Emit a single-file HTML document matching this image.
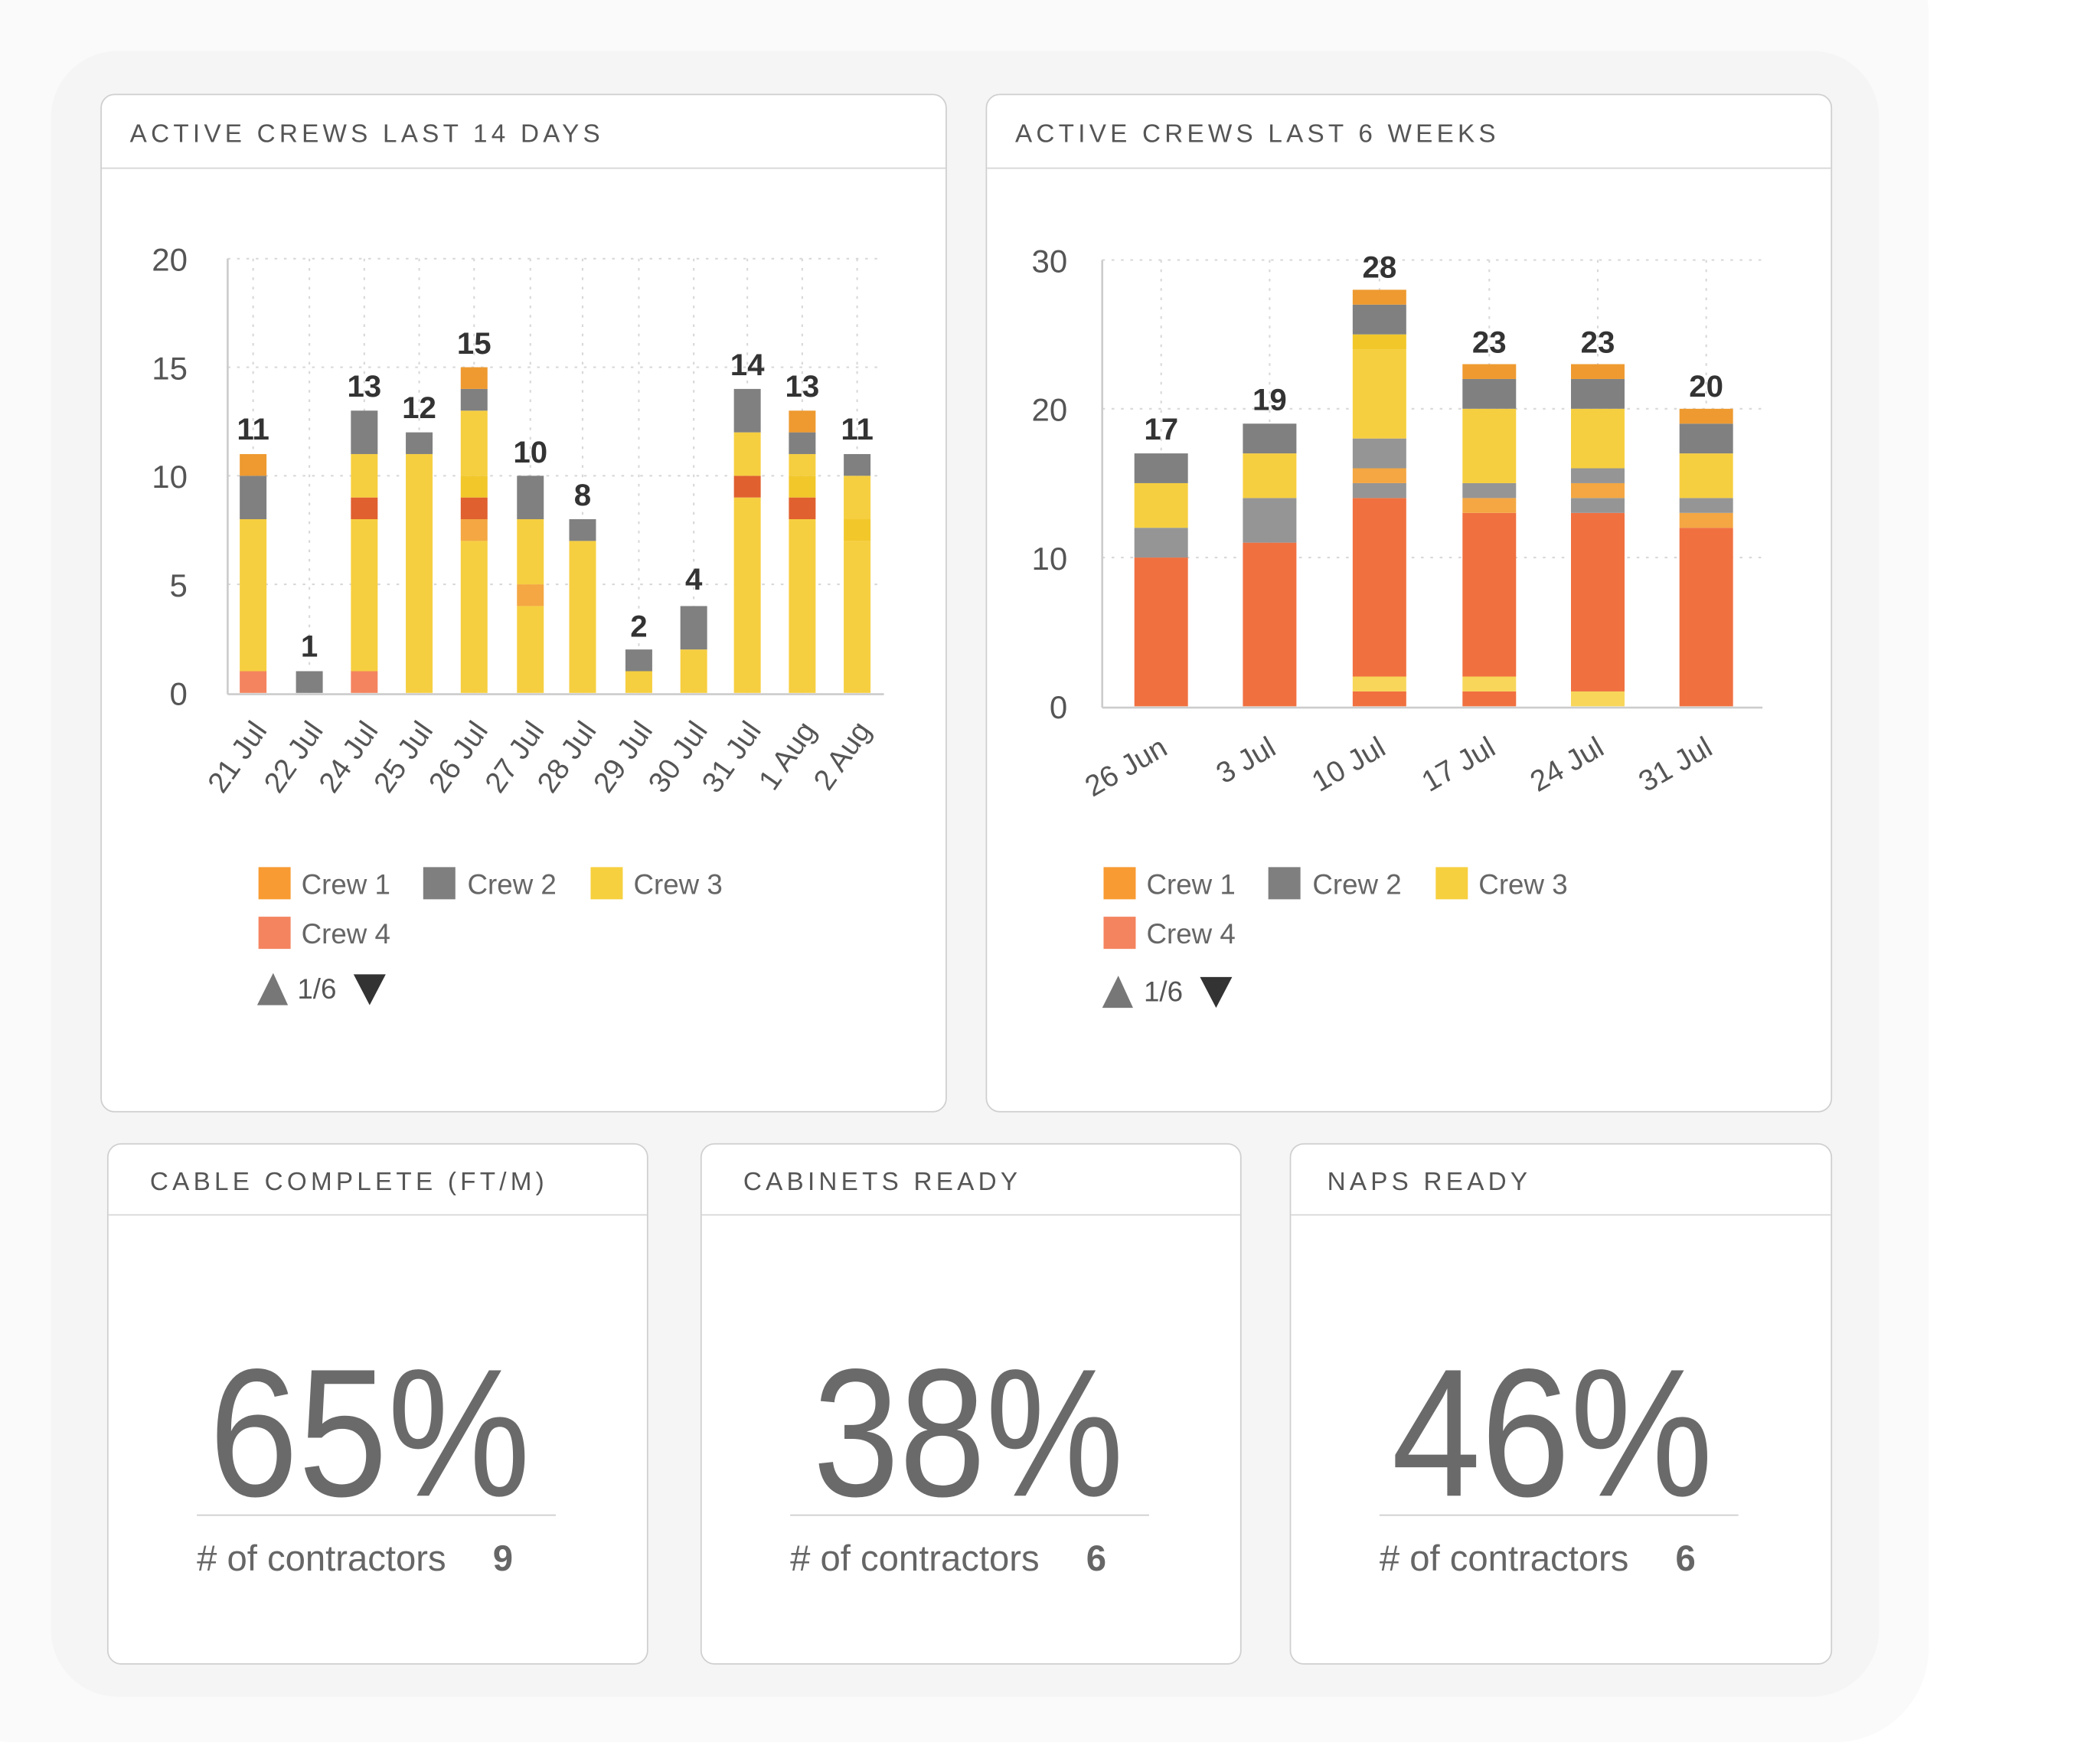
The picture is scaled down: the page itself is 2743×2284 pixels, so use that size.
<!DOCTYPE html>
<html><head><meta charset="utf-8">
<style>
html,body{margin:0;padding:0;background:#fff;}
svg{display:block;}
text{font-family:"Liberation Sans","DejaVu Sans",sans-serif;}
</style></head>
<body>
<svg id="s" width="2743" height="2284" viewBox="0 0 1568 1305" preserveAspectRatio="none" xmlns="http://www.w3.org/2000/svg">
<rect x="0" y="0" width="1568" height="1305" fill="#fff"/>
<rect x="-60" y="-60" width="1500" height="1360" rx="70" fill="#fafafa"/>
<rect x="38" y="38" width="1365" height="1228" rx="50" fill="#f5f5f5"/>
<g fill="#fff" stroke="#cfcfcf" stroke-width="1">
<rect x="75.5" y="70.5" width="631" height="759" rx="10"/>
<rect x="736.5" y="70.5" width="631" height="759" rx="10"/>
<rect x="80.5" y="853.5" width="403" height="388" rx="10"/>
<rect x="523.5" y="853.5" width="403" height="388" rx="10"/>
<rect x="963.5" y="853.5" width="404" height="388" rx="10"/>
</g>
<g stroke="#d6d6d6" stroke-width="1">
<line x1="76" y1="125.5" x2="706" y2="125.5"/>
<line x1="737" y1="125.5" x2="1367" y2="125.5"/>
<line x1="81" y1="906.5" x2="483" y2="906.5"/>
<line x1="524" y1="906.5" x2="926" y2="906.5"/>
<line x1="964" y1="906.5" x2="1367" y2="906.5"/>
</g>
<g fill="#555" font-size="19" letter-spacing="3">
<text x="97" y="106">ACTIVE CREWS LAST 14 DAYS</text>
<text x="758" y="106">ACTIVE CREWS LAST 6 WEEKS</text>
<text x="112" y="888">CABLE COMPLETE (FT/M)</text>
<text x="555" y="888">CABINETS READY</text>
<text x="991" y="888">NAPS READY</text>
</g>
<g stroke="#d8d8d8" stroke-width="1.2" stroke-dasharray="2,5">
<line x1="170" y1="193" x2="660" y2="193"/><line x1="170" y1="274" x2="660" y2="274"/>
<line x1="170" y1="355" x2="660" y2="355"/><line x1="170" y1="436" x2="660" y2="436"/>
<line x1="189" y1="193" x2="189" y2="517"/><line x1="231" y1="193" x2="231" y2="517"/>
<line x1="272" y1="193" x2="272" y2="517"/><line x1="313" y1="193" x2="313" y2="517"/>
<line x1="354" y1="193" x2="354" y2="517"/><line x1="396" y1="193" x2="396" y2="517"/>
<line x1="435" y1="193" x2="435" y2="517"/><line x1="477" y1="193" x2="477" y2="517"/>
<line x1="518" y1="193" x2="518" y2="517"/><line x1="558" y1="193" x2="558" y2="517"/>
<line x1="599" y1="193" x2="599" y2="517"/><line x1="640" y1="193" x2="640" y2="517"/>
</g>
<g stroke="#d8d8d8" stroke-width="1.2" stroke-dasharray="2,5">
<line x1="823" y1="194" x2="1315" y2="194"/><line x1="823" y1="305" x2="1315" y2="305"/>
<line x1="823" y1="416" x2="1315" y2="416"/>
<line x1="867" y1="194" x2="867" y2="527"/><line x1="948" y1="194" x2="948" y2="527"/>
<line x1="1030" y1="194" x2="1030" y2="527"/><line x1="1112" y1="194" x2="1112" y2="527"/>
<line x1="1193" y1="194" x2="1193" y2="527"/><line x1="1274" y1="194" x2="1274" y2="527"/>
</g>
<g stroke="#ccc" stroke-width="1.5">
<line x1="170" y1="193" x2="170" y2="518"/><line x1="170" y1="518" x2="660" y2="518"/>
<line x1="823" y1="194" x2="823" y2="528"/><line x1="823" y1="528" x2="1316" y2="528"/>
</g>
<g id="bars"></g>
<g fill="#555" font-size="24" text-anchor="end">
<text x="140" y="202">20</text><text x="140" y="283">15</text><text x="140" y="364">10</text>
<text x="140" y="445">5</text><text x="140" y="526">0</text>
<text x="797" y="203">30</text><text x="797" y="314">20</text><text x="797" y="425">10</text>
<text x="797" y="536">0</text>
</g>
<g fill="#333" font-size="23" font-weight="bold" text-anchor="middle">
<text x="189" y="328">11</text><text x="231" y="490">1</text><text x="272" y="296">13</text>
<text x="313" y="312">12</text><text x="354" y="264">15</text><text x="396" y="345">10</text>
<text x="435" y="377">8</text><text x="477" y="475">2</text><text x="518" y="440">4</text>
<text x="558" y="280">14</text><text x="599" y="296">13</text><text x="640" y="328">11</text>
<text x="867" y="328">17</text><text x="948" y="306">19</text><text x="1030" y="207">28</text>
<text x="1112" y="263">23</text><text x="1193" y="263">23</text><text x="1274" y="296">20</text>
</g>
<g fill="#555" font-size="22" text-anchor="end">
<text transform="translate(200,545) rotate(-55)">21 Jul</text>
<text transform="translate(242,545) rotate(-55)">22 Jul</text>
<text transform="translate(283,545) rotate(-55)">24 Jul</text>
<text transform="translate(324,545) rotate(-55)">25 Jul</text>
<text transform="translate(365,545) rotate(-55)">26 Jul</text>
<text transform="translate(407,545) rotate(-55)">27 Jul</text>
<text transform="translate(446,545) rotate(-55)">28 Jul</text>
<text transform="translate(488,545) rotate(-55)">29 Jul</text>
<text transform="translate(529,545) rotate(-55)">30 Jul</text>
<text transform="translate(569,545) rotate(-55)">31 Jul</text>
<text transform="translate(610,545) rotate(-55)">1 Aug</text>
<text transform="translate(651,545) rotate(-55)">2 Aug</text>
<text transform="translate(873,562) rotate(-30)">26 Jun</text>
<text transform="translate(954,562) rotate(-30)">3 Jul</text>
<text transform="translate(1036,562) rotate(-30)">10 Jul</text>
<text transform="translate(1118,562) rotate(-30)">17 Jul</text>
<text transform="translate(1199,562) rotate(-30)">24 Jul</text>
<text transform="translate(1280,562) rotate(-30)">31 Jul</text>
</g>
<g font-size="21" fill="#666">
<rect x="193" y="647" width="24" height="24" fill="#f89b32"/><text x="225" y="667">Crew 1</text>
<rect x="316" y="647" width="24" height="24" fill="#7f7f7f"/><text x="349" y="667">Crew 2</text>
<rect x="441" y="647" width="24" height="24" fill="#f7d03f"/><text x="473" y="667">Crew 3</text>
<rect x="193" y="684" width="24" height="24" fill="#f4845f"/><text x="225" y="704">Crew 4</text>
<polygon points="192,750 204,726 215,750" fill="#777"/><text x="222" y="745" fill="#555">1/6</text>
<polygon points="264,727 288,727 276,750" fill="#333"/>
<rect x="824" y="647" width="24" height="24" fill="#f89b32"/><text x="856" y="667">Crew 1</text>
<rect x="947" y="647" width="24" height="24" fill="#7f7f7f"/><text x="980" y="667">Crew 2</text>
<rect x="1072" y="647" width="24" height="24" fill="#f7d03f"/><text x="1104" y="667">Crew 3</text>
<rect x="824" y="684" width="24" height="24" fill="#f4845f"/><text x="856" y="704">Crew 4</text>
<polygon points="823,752 835,728 846,752" fill="#777"/><text x="854" y="747" fill="#555">1/6</text>
<polygon points="896,729 920,729 908,752" fill="#333"/>
</g>
<g fill="#6a6a6a" font-size="136" text-anchor="middle">
<text x="276" y="1116" textLength="240" lengthAdjust="spacingAndGlyphs">65%</text>
<text x="723" y="1116" textLength="232" lengthAdjust="spacingAndGlyphs">38%</text>
<text x="1159" y="1116" textLength="240" lengthAdjust="spacingAndGlyphs">46%</text>
</g>
<g stroke="#ccc" stroke-width="1">
<line x1="147" y1="1130.5" x2="415" y2="1130.5"/>
<line x1="590" y1="1130.5" x2="858" y2="1130.5"/>
<line x1="1030" y1="1130.5" x2="1298" y2="1130.5"/>
</g>
<g fill="#666" font-size="27">
<text x="147" y="1172"># of contractors</text><text x="368" y="1172" font-weight="bold">9</text>
<text x="590" y="1172"># of contractors</text><text x="811" y="1172" font-weight="bold">6</text>
<text x="1030" y="1172"># of contractors</text><text x="1251" y="1172" font-weight="bold">6</text>
</g>
</svg>
<script>
var Y="#f6cf40",G="#808080",O="#ee9a30",S="#f4845f",R="#e0602f",LO="#f4a742",DY="#f2c72a",LG="#959595",RR="#f07040",PY="#f7d65a";
var c1=[[189,[[S,1],[Y,7],[G,2],[O,1]]],[231,[[G,1]]],[272,[[S,1],[Y,7],[R,1],[Y,2],[G,2]]],[313,[[Y,11],[G,1]]],
[354,[[Y,7],[LO,1],[R,1],[DY,1],[Y,3],[G,1],[O,1]]],[396,[[Y,4],[LO,1],[Y,3],[G,2]]],[435,[[Y,7],[G,1]]],
[477,[[Y,1],[G,1]]],[518,[[Y,2],[G,2]]],[558,[[Y,9],[R,1],[Y,2],[G,2]]],[599,[[Y,8],[R,1],[DY,1],[Y,1],[G,1],[O,1]]],[640,[[Y,7],[DY,1],[Y,2],[G,1]]]];
var c2=[[867,[[RR,10],[LG,2],[Y,3],[G,2]]],[948,[[RR,11],[LG,3],[Y,3],[G,2]]],
[1030,[[RR,1],[PY,1],[RR,12],[LG,1],[LO,1],[LG,2],[Y,6],[DY,1],[G,2],[O,1]]],
[1112,[[RR,1],[PY,1],[RR,11],[LO,1],[LG,1],[Y,5],[G,2],[O,1]]],
[1193,[[PY,1],[RR,12],[LG,1],[LO,1],[LG,1],[Y,4],[G,2],[O,1]]],
[1274,[[RR,12],[LO,1],[LG,1],[Y,3],[G,2],[O,1]]]];
var g=document.getElementById('bars'),ns="http://www.w3.org/2000/svg";
function draw(d,z,k,w){d.forEach(function(b){var v=0;b[1].forEach(function(s){var r=document.createElementNS(ns,'rect');
var y1=z-(v+s[1])*k,y0=z-v*k;r.setAttribute('x',b[0]-w/2);r.setAttribute('y',y1);r.setAttribute('width',w);
r.setAttribute('height',y0-y1);r.setAttribute('fill',s[0]);g.appendChild(r);v+=s[1];});});}
draw(c1,517,16.2,20);draw(c2,527,11.1,40);
</script>
</body></html>
